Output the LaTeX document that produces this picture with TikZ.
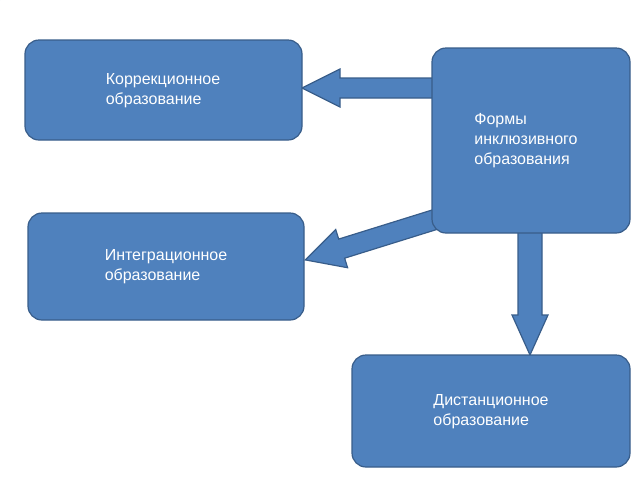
\documentclass[tikz,border=0pt]{standalone}
\usepackage{fontspec}
\setmainfont{Liberation Sans}
\begin{document}
\begin{tikzpicture}[x=1pt,y=1pt,
  box/.style={draw=blue!30!black!70!cyan, line width=1.2pt, fill=boxblue, rounded corners=14pt, text=white, font=\fontsize{16}{20}\selectfont, align=left},
  fat/.style={draw=boxedge, line width=1.2pt, fill=boxblue, line join=miter}]
\definecolor{boxblue}{HTML}{4F81BD}
\definecolor{boxedge}{HTML}{385D8A}
\useasboundingbox (0,0) rectangle (640,-480);
% arrows
\fill[boxblue] (0,0) -- (0,0);
\begin{scope}[shift={(440,-88)}]
  \draw[fat] (0,10) -- (-100,10) -- (-100,19) -- (-138,0) -- (-100,-19) -- (-100,-10) -- (0,-10) -- cycle;
\end{scope}
\begin{scope}[shift={(440,-218)}, rotate=197.3]
  \draw[fat] (0,10) -- (103,10) -- (103,20) -- (141,0) -- (103,-20) -- (103,-10) -- (0,-10) -- cycle;
\end{scope}
\begin{scope}[shift={(530,-230)}]
  \draw[fat] (-12,0) -- (-12,-85) -- (-18,-85) -- (0,-125) -- (18,-85) -- (12,-85) -- (12,0) -- cycle;
\end{scope}
\node[box, minimum width=277pt, minimum height=100pt, draw=boxedge] (k) at (163.5,-90) {};
\node[text=white, font=\fontsize{16}{20}\selectfont, align=left] (kt) at (163,-91) {Коррекционное\\образование};
\node[box, minimum width=276pt, minimum height=107pt, draw=boxedge] (i) at (166,-266.5) {};
\node[text=white, font=\fontsize{16}{20}\selectfont, align=left] (it) at (166,-267) {Интеграционное\\образование};
\node[box, minimum width=278pt, minimum height=112pt, draw=boxedge] (d) at (491,-411) {};
\node[text=white, font=\fontsize{16}{20}\selectfont, align=left] (dt) at (491,-412) {Дистанционное\\образование};
\node[box, minimum width=198pt, minimum height=185pt, draw=boxedge] (f) at (531,-140.5) {};
\node[text=white, font=\fontsize{16}{20}\selectfont, align=left] (ft) at (526,-141) {Формы\\инклюзивного\\образования};
\end{tikzpicture}
\end{document}
